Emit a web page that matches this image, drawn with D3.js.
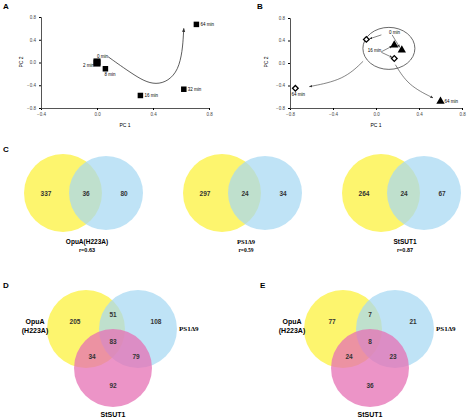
<!DOCTYPE html><html><head><meta charset="utf-8"><script src="https://cdn.jsdelivr.net/npm/d3@7"></script>
<style>body{margin:0;background:#fff}svg{font-family:Arial,"Liberation Sans",sans-serif}</style></head><body>
<svg id="c" width="474" height="420"></svg>
<script>
const ticksX_A=[-0.4,0,0.4,0.8], ticksX_B=[-0.8,-0.4,0,0.4,0.8], ticksY=[-0.8,-0.4,0,0.4,0.8];
const labelsA=["0 min","2 min","8 min","16 min","32 min","64 min"];
const pcA1=[0.0,0.0,0.06,0.31,0.62,0.71];
const pcA2=[0.01,-0.01,-0.11,-0.58,-0.47,0.67];
const diamondsB1=[-0.09,0.17,-0.75], diamondsB2=[0.42,0.08,-0.45];
const trianglesB1=[0.17,0.24,0.60], trianglesB2=[0.32,0.23,-0.68];
const vennC_names=["OpuA(H223A)","PS1\u03949","StSUT1"];
const vennC_r=["r=0.63","r=0.59","r=0.87"];
const vennC_left=[337,297,264], vennC_mid=[36,24,24], vennC_right=[80,34,67];
const vennD=[205,51,108,83,34,79,92];
const vennE=[77,7,21,8,24,23,36];

const svg=d3.select("#c");
const fmt=d3.format(".1f");
function letter(t,x,y){svg.append("text").attr("x",x).attr("y",y).text(t).attr("font-size",8).attr("font-weight","bold");}
svg.append("defs").html('<marker id="ah" viewBox="0 0 10 10" refX="9" refY="5" markerWidth="5" markerHeight="5" orient="auto"><path d="M0,1L10,5L0,9z" fill="#333"/></marker>');

function axes(g,x,y,tx,left,bottom){
  g.append("g").attr("transform",`translate(0,${bottom})`).call(d3.axisBottom(x).tickValues(tx).tickFormat(fmt).tickSize(2)).call(a=>{a.selectAll("text").attr("font-size",4.5).attr("fill","#444");a.select(".domain").attr("stroke","#555")});
  g.append("g").attr("transform",`translate(${left},0)`).call(d3.axisLeft(y).tickValues(ticksY).tickFormat(fmt).tickSize(2)).call(a=>{a.selectAll("text").attr("font-size",4.5).attr("fill","#444");a.select(".domain").attr("stroke","#555")});
}
// Panel A
letter("A",3,9);
const xA=d3.scaleLinear().domain([-0.4,0.8]).range([41,209]);
const yA=d3.scaleLinear().domain([-0.8,0.8]).range([108,17]);
const gA=svg.append("g");
axes(gA,xA,yA,ticksX_A,41,108);
gA.append("text").attr("x",125).attr("y",127).attr("text-anchor","middle").attr("font-size",5).text("PC 1");
gA.append("text").attr("transform","translate(23,62) rotate(-90)").attr("text-anchor","middle").attr("font-size",5).text("PC 2");
gA.append("path").attr("d",d3.line().curve(d3.curveBasis).x(d=>xA(d[0])).y(d=>yA(d[1]))([[0.08,0.1],[0.25,-0.2],[0.42,-0.45],[0.6,-0.2],[0.62,0.6]])).attr("fill","none").attr("stroke","#333").attr("stroke-width",0.8).attr("marker-end","url(#ah)");
pcA1.forEach((v,i)=>{
  const s=i<2?7:5.5;
  gA.append("rect").attr("x",xA(v)-s/2).attr("y",yA(pcA2[i])-s/2).attr("width",s).attr("height",s).attr("fill","#000");
});
const offA=[[0,-4,"start"],[-3,4,"end"],[-1,7,"start"],[4,2,"start"],[4,2,"start"],[4,2,"start"]];
labelsA.forEach((l,i)=>gA.append("text").attr("x",xA(pcA1[i])+offA[i][0]).attr("y",yA(pcA2[i])+offA[i][1]).attr("text-anchor",offA[i][2]).attr("font-size",4.5).text(l));

// Panel B
letter("B",257,9);
const xB=d3.scaleLinear().domain([-0.8,0.8]).range([290,462]);
const yB=d3.scaleLinear().domain([-0.8,0.8]).range([108,18]);
const gB=svg.append("g");
axes(gB,xB,yB,ticksX_B,290,108);
gB.append("text").attr("x",376).attr("y",127).attr("text-anchor","middle").attr("font-size",5).text("PC 1");
gB.append("text").attr("transform","translate(268,62) rotate(-90)").attr("text-anchor","middle").attr("font-size",5).text("PC 2");
gB.append("ellipse").attr("cx",xB(0.12)).attr("cy",yB(0.26)).attr("rx",26).attr("ry",21).attr("fill","none").attr("stroke","#444").attr("stroke-width",0.8);
const arr=(p)=>gB.append("path").attr("d",d3.line().curve(d3.curveBasis).x(d=>xB(d[0])).y(d=>yB(d[1]))(p)).attr("fill","none").attr("stroke","#333").attr("stroke-width",0.6).attr("marker-end","url(#ah)");
arr([[0.05,0.5],[-0.06,0.43]]);arr([[0.15,0.5],[0.22,0.28]]);
arr([[0.05,0.2],[0.15,0.3]]);arr([[0.05,0.19],[0.15,0.1]]);
arr([[-0.12,0.03],[-0.3,-0.3],[-0.62,-0.42]]);
arr([[0.18,-0.03],[0.3,-0.4],[0.53,-0.62]]);
diamondsB1.forEach((v,i)=>gB.append("rect").attr("x",-2).attr("y",-2).attr("width",4).attr("height",4).attr("transform",`translate(${xB(v)},${yB(diamondsB2[i])}) rotate(45)`).attr("fill","#fff").attr("stroke","#000").attr("stroke-width",1.3));
trianglesB1.forEach((v,i)=>gB.append("path").attr("d",d3.symbol(d3.symbolTriangle,30)()).attr("transform",`translate(${xB(v)},${yB(trianglesB2[i])})`).attr("fill","#000"));
gB.append("text").attr("x",xB(0.12)).attr("y",yB(0.5)-1).attr("font-size",4.5).text("0 min");
gB.append("text").attr("x",xB(0.05)).attr("y",yB(0.18)-1).attr("text-anchor","end").attr("font-size",4.5).text("16 min");
gB.append("text").attr("x",xB(-0.75)-4).attr("y",yB(-0.45)+8).attr("font-size",4.5).text("64 min");
gB.append("text").attr("x",xB(0.6)+4).attr("y",yB(-0.68)+2).attr("font-size",4.5).text("64 min");

// Panel C
letter("C",3,152);
const colY="#fdf56e", colB="#a6d8f2", colP="#e670b4";
const cX=[63,222,381];
vennC_names.forEach((n,i)=>{
  const g=svg.append("g").attr("transform",`translate(${cX[i]},193)`);
  g.append("circle").attr("cx",0).attr("cy",0).attr("r",39).attr("fill",colY);
  g.append("circle").attr("cx",43).attr("cy",0).attr("r",37).attr("fill",colB).attr("opacity",0.72);
  const num=(v,x)=>g.append("text").attr("x",x).attr("y",3).attr("text-anchor","middle").attr("font-size",6.5).attr("font-weight","bold").attr("fill","#333").text(v);
  num(vennC_left[i],-17);num(vennC_mid[i],23);num(vennC_right[i],61);
  const serif=i==1?"Liberation Serif,serif":null;
  g.append("text").attr("x",24).attr("y",51).attr("text-anchor","middle").attr("font-size",6.5).attr("font-weight","bold").attr("font-family",serif).text(n);
  g.append("text").attr("x",24).attr("y",59).attr("text-anchor","middle").attr("font-size",5.5).attr("font-weight","bold").attr("font-family",serif).text(vennC_r[i]);
});

// Panels D, E
function venn3(ox,vals,lt){
  letter(lt,ox+3,288);
  const g=svg.append("g").attr("transform",`translate(${ox},0)`);
  g.append("circle").attr("cx",86).attr("cy",329).attr("r",39).attr("fill",colY);
  g.append("circle").attr("cx",138).attr("cy",329).attr("r",39).attr("fill",colB).attr("opacity",0.72);
  g.append("circle").attr("cx",113).attr("cy",368).attr("r",39).attr("fill",colP).attr("opacity",0.75);
  const pos=[[75,324],[113,317],[156,324],[113,344],[92,359],[136,359],[113,388]];
  vals.forEach((v,i)=>g.append("text").attr("x",pos[i][0]).attr("y",pos[i][1]).attr("text-anchor","middle").attr("font-size",6.5).attr("font-weight","bold").attr("fill","#333").text(v));
  g.append("text").attr("x",35).attr("y",324).attr("text-anchor","middle").attr("font-size",7).attr("font-weight","bold").text("OpuA");
  g.append("text").attr("x",35).attr("y",333).attr("text-anchor","middle").attr("font-size",7).attr("font-weight","bold").text("(H223A)");
  g.append("text").attr("x",179).attr("y",331).attr("font-size",7).attr("font-weight","bold").attr("font-family","Liberation Serif,serif").text("PS1\u03949");
  g.append("text").attr("x",113).attr("y",417).attr("text-anchor","middle").attr("font-size",7).attr("font-weight","bold").text("StSUT1");
}
venn3(0,vennD,"D");venn3(257,vennE,"E");
</script></body></html>
